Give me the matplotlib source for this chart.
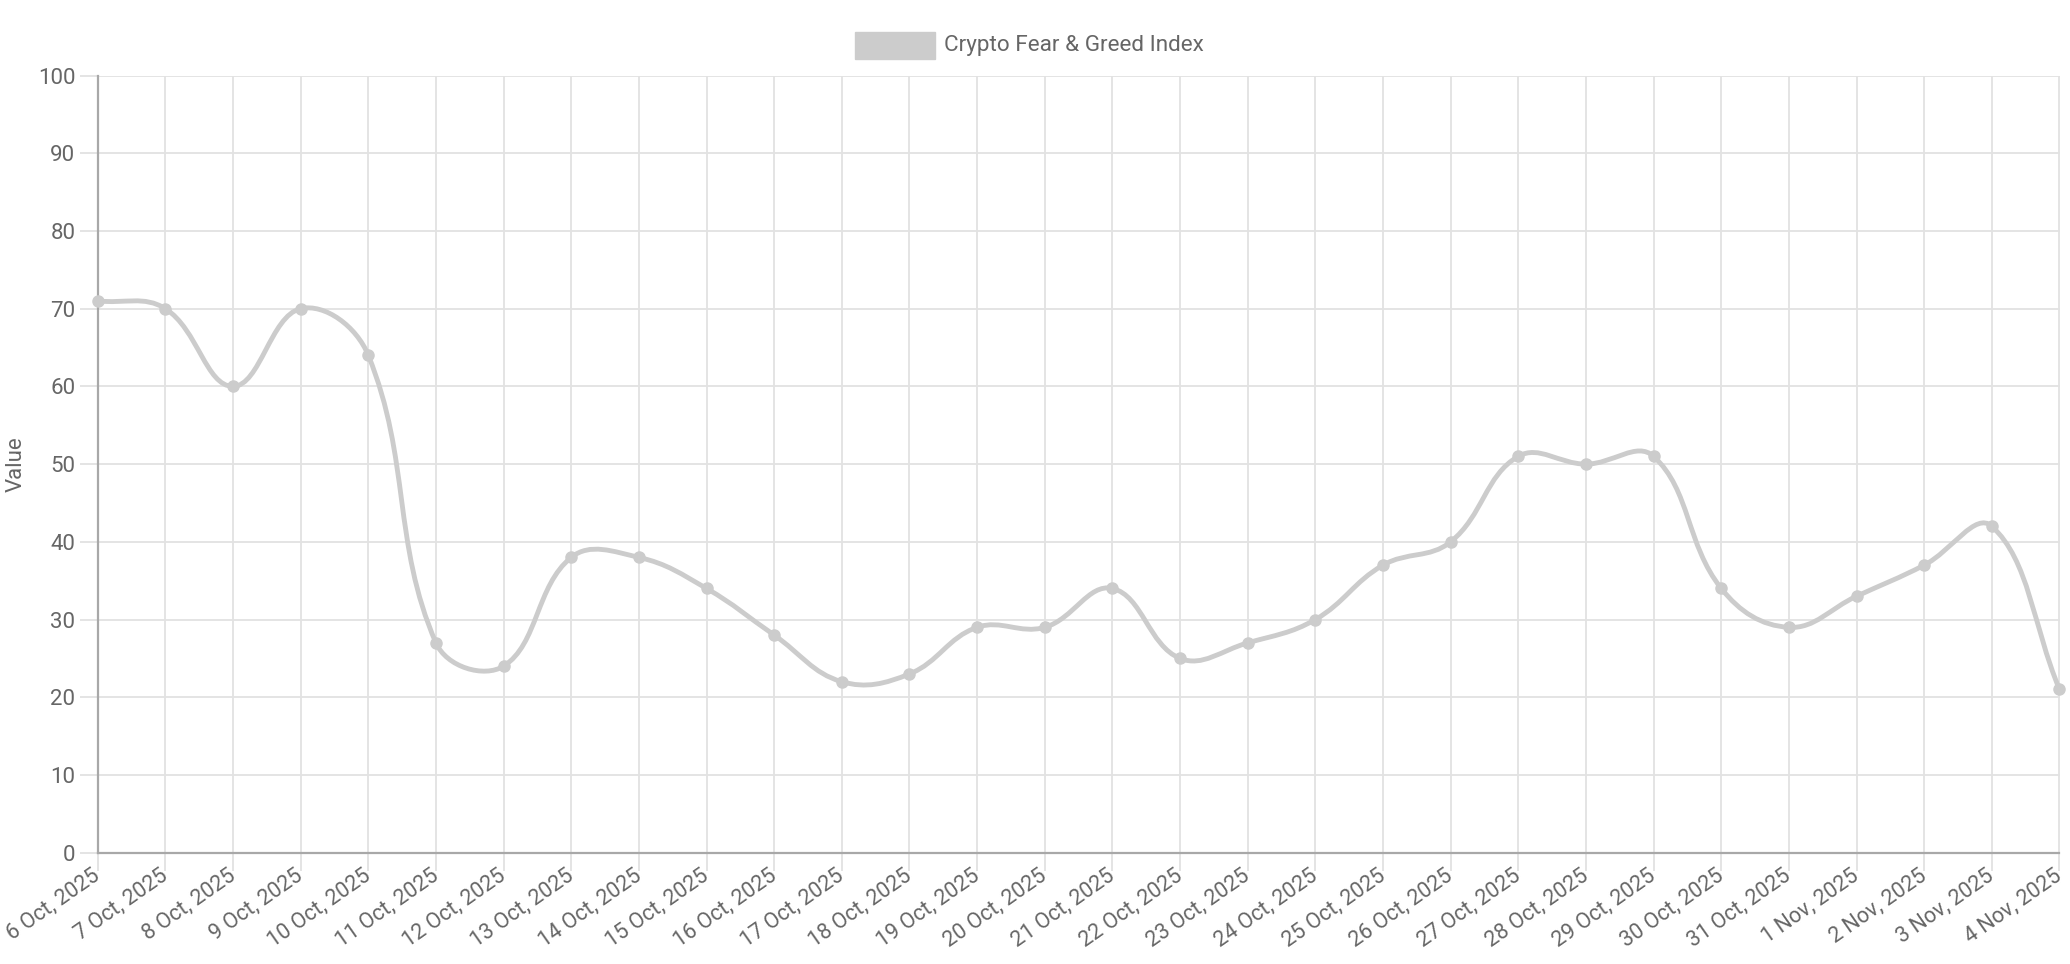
import numpy as np
import matplotlib
matplotlib.use("Agg")
import matplotlib.pyplot as plt
from matplotlib.path import Path
from matplotlib.patches import PathPatch, Rectangle

# Crypto Fear & Greed Index, 6 Oct - 4 Nov 2025
dates = ["6 Oct, 2025", "7 Oct, 2025", "8 Oct, 2025", "9 Oct, 2025", "10 Oct, 2025",
         "11 Oct, 2025", "12 Oct, 2025", "13 Oct, 2025", "14 Oct, 2025", "15 Oct, 2025",
         "16 Oct, 2025", "17 Oct, 2025", "18 Oct, 2025", "19 Oct, 2025", "20 Oct, 2025",
         "21 Oct, 2025", "22 Oct, 2025", "23 Oct, 2025", "24 Oct, 2025", "25 Oct, 2025",
         "26 Oct, 2025", "27 Oct, 2025", "28 Oct, 2025", "29 Oct, 2025", "30 Oct, 2025",
         "31 Oct, 2025", "1 Nov, 2025", "2 Nov, 2025", "3 Nov, 2025", "4 Nov, 2025"]
values = [71, 70, 60, 70, 64, 27, 24, 38, 38, 34, 28, 22, 23, 29, 29,
          34, 25, 27, 30, 37, 40, 51, 50, 51, 34, 29, 33, 37, 42, 21]
y_ticks = list(range(0, 101, 10))
series_name = "Crypto Fear & Greed Index"

LINE = "#cccccc"
GRID = "#e2e2e2"
AXIS = "#a8a8a8"
TXT = "#666666"

plt.rcParams["font.family"] = ["Roboto", "DejaVu Sans"]

fig = plt.figure(figsize=(20.7, 9.64), dpi=100)
ax = fig.add_axes([97.7 / 2070, 1 - 852.7 / 964, (2059.5 - 97.7) / 2070, (852.7 - 75.5) / 964])

xs = np.arange(len(values))
ax.set_xlim(xs[0], xs[-1])
ax.set_ylim(0, 100)
ax.set_xticks(xs)
ax.set_xticklabels(dates, rotation=35, ha="right", va="center", rotation_mode="anchor")
ax.set_yticks(y_ticks)
ax.grid(True, color=GRID, linewidth=1.3)
ax.set_axisbelow(True)
ax.tick_params(length=13, width=1.3, color=GRID, labelsize=16, labelcolor=TXT, pad=3)
ax.tick_params(axis="x", labelsize=15.5, pad=2)
for s in ["top", "right"]:
    ax.spines[s].set_visible(False)
for s in ["left", "bottom"]:
    ax.spines[s].set_color(AXIS)
    ax.spines[s].set_linewidth(1.6)
ax.set_ylabel("Value", fontsize=16, color=TXT, labelpad=8)

# smooth curve like chart.js (tension 0.4) computed in pixel space
tension = 0.4
pts = ax.transData.transform(np.column_stack([xs, values]))
n = len(pts)
cp_prev = np.zeros_like(pts)
cp_next = np.zeros_like(pts)
for i in range(n):
    prev = pts[i - 1] if i > 0 else pts[i]
    cur = pts[i]
    nxt = pts[i + 1] if i < n - 1 else pts[i]
    d01 = np.hypot(*(cur - prev))
    d12 = np.hypot(*(nxt - cur))
    tot = d01 + d12
    s01 = d01 / tot if tot else 0
    s12 = d12 / tot if tot else 0
    cp_prev[i] = cur - tension * s01 * (nxt - prev)
    cp_next[i] = cur + tension * s12 * (nxt - prev)
bb = ax.bbox
for cp in (cp_prev, cp_next):
    cp[:, 0] = np.clip(cp[:, 0], bb.x0, bb.x1)
    cp[:, 1] = np.clip(cp[:, 1], bb.y0, bb.y1)
verts = [pts[0]]
codes = [Path.MOVETO]
for i in range(1, n):
    verts += [cp_next[i - 1], cp_prev[i], pts[i]]
    codes += [Path.CURVE4] * 3
verts = ax.transData.inverted().transform(np.array(verts))
ax.add_patch(PathPatch(Path(verts, codes), facecolor="none", edgecolor=LINE,
                       linewidth=3.5, clip_on=False, zorder=3))
ax.plot(xs, values, linestyle="none", marker="o", markersize=8, color=LINE,
        clip_on=False, zorder=4)

# legend drawn like chart.js
fig.patches.append(Rectangle((855 / 2070, 1 - 59 / 964), 80 / 2070, 27 / 964,
                             transform=fig.transFigure, facecolor=LINE, edgecolor=LINE))
fig.text(944 / 2070, 1 - 45.5 / 964, series_name, fontsize=16.2, color=TXT,
         ha="left", va="center")

fig.savefig("out.png", dpi=100, facecolor="white")
